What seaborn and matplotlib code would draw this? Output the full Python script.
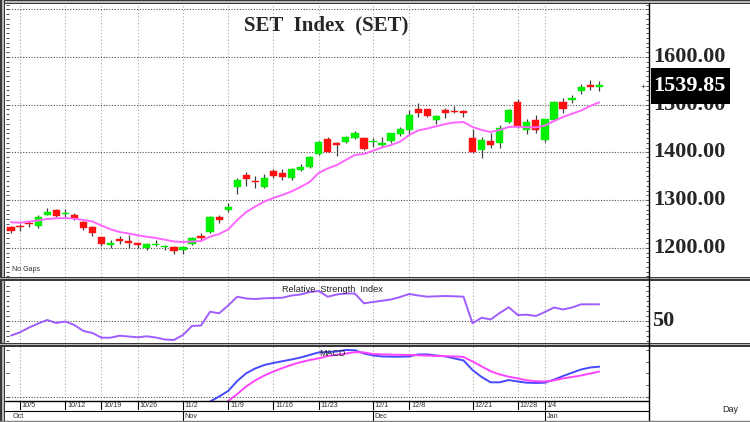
import numpy as np
import pandas as pd
import matplotlib
matplotlib.use("Agg")
import matplotlib.pyplot as plt
import seaborn as sns
from matplotlib.patches import Rectangle
from matplotlib.ticker import MultipleLocator

# ---------------- data ----------------
opens = [1244, 1245, 1251, 1246, 1269, 1280, 1270, 1269, 1255, 1243,
         1222, 1205, 1218, 1215, 1210, 1200, 1206, 1201, 1202, 1195,
         1209, 1225, 1233, 1265, 1279, 1328, 1353, 1340, 1328, 1362,
         1357, 1346, 1363, 1369, 1397, 1429, 1419, 1421, 1430, 1431,
         1421, 1416, 1424, 1438, 1447, 1492, 1491, 1468, 1489, 1487,
         1486, 1430, 1405, 1424, 1420, 1463, 1505, 1448, 1467, 1427,
         1468, 1506, 1510, 1529, 1541, 1538]
highs = [1246, 1249, 1256, 1268, 1283, 1281, 1281, 1273, 1257, 1245,
         1223, 1216, 1225, 1227, 1213, 1210, 1216, 1206, 1204, 1204,
         1222, 1230, 1267, 1268, 1294, 1346, 1358, 1350, 1355, 1366,
         1366, 1368, 1376, 1392, 1423, 1432, 1422, 1434, 1445, 1433,
         1430, 1433, 1441, 1453, 1489, 1503, 1492, 1479, 1494, 1497,
         1489, 1450, 1432, 1441, 1457, 1490, 1511, 1470, 1478, 1471,
         1507, 1515, 1520, 1544, 1552, 1550]
lows = [1230, 1236, 1244, 1242, 1268, 1264, 1262, 1258, 1238, 1225,
        1203, 1200, 1208, 1200, 1200, 1196, 1203, 1196, 1187, 1187,
        1205, 1215, 1230, 1251, 1276, 1313, 1330, 1325, 1326, 1347,
        1342, 1343, 1360, 1367, 1395, 1400, 1393, 1420, 1429, 1406,
        1411, 1412, 1420, 1435, 1437, 1474, 1475, 1460, 1472, 1482,
        1474, 1398, 1388, 1409, 1409, 1461, 1452, 1439, 1441, 1422,
        1465, 1483, 1503, 1522, 1531, 1529]
closes = [1236, 1243, 1249, 1264, 1276, 1266, 1274, 1262, 1242, 1232,
          1207, 1210, 1214, 1211, 1206, 1208, 1208, 1203, 1193, 1201,
          1221, 1221, 1265, 1258, 1286, 1342, 1344, 1337, 1346, 1351,
          1349, 1365, 1370, 1390, 1421, 1401, 1416, 1433, 1440, 1408,
          1423, 1419, 1440, 1450, 1478, 1483, 1476, 1477, 1483, 1484,
          1482, 1401, 1426, 1416, 1452, 1488, 1454, 1463, 1447, 1469,
          1506, 1491, 1513, 1538, 1538, 1539.85]
ma = [1253.5, 1252.6, 1255.1, 1257.2, 1260.4, 1261.8, 1262.5, 1261.0, 1258.3, 1255.1,
      1246.7, 1238.8, 1233.1, 1230.0, 1226.2, 1223.3, 1220.5, 1217.0, 1213.2, 1212.2,
      1213.2, 1214.3, 1223.3, 1228.9, 1238.4, 1258.3, 1275.1, 1286.6, 1297.1, 1304.5,
      1310.8, 1318.1, 1327.5, 1338.0, 1356.9, 1366.3, 1373.6, 1384.1, 1394.6, 1396.7,
      1403.6, 1410.3, 1415.5, 1422.5, 1436.5, 1445.9, 1450.1, 1454.7, 1459.5, 1462.7,
      1463.7, 1453.3, 1447.0, 1442.8, 1447.0, 1453.3, 1453.9, 1452.6, 1452.6, 1456.4,
      1465.8, 1474.2, 1481.1, 1487.8, 1497.3, 1505.0]
rsi = [35.2, 38.4, 43.2, 47.2, 50.7, 47.7, 49.2, 45.7, 39.7, 37.7,
       33.0, 33.0, 35.0, 34.2, 33.4, 34.4, 33.2, 31.2, 30.7, 35.7,
       44.7, 45.2, 59.0, 57.4, 65.2, 74.0, 72.2, 71.7, 72.4, 72.7,
       73.0, 75.2, 76.2, 78.7, 79.7, 74.0, 76.2, 77.2, 77.2, 67.4,
       68.7, 70.0, 71.2, 73.7, 76.7, 75.2, 74.0, 74.4, 74.7, 74.4,
       74.0, 47.4, 53.0, 51.2, 57.7, 63.4, 55.7, 56.0, 54.7, 58.7,
       63.2, 61.2, 63.2, 66.4, 66.4, 66.4]
nan = float("nan")
macd = [nan] * 21 + [
    -10.0, -3.6, 0.2, 4.3, 11.8, 17.6, 21.2, 23.8, 25.3, 26.6,
    27.9, 29.4, 31.3, 33.2, 33.5, 33.9, 35.0, 34.8, 32.4, 30.9,
    30.2, 30.0, 30.0, 30.2, 31.7, 31.7, 30.9, 30.2, 28.7, 27.2,
    20.0, 14.8, 10.8, 10.8, 12.5, 11.4, 10.5, 10.3, 10.5, 12.8,
    15.5, 18.0, 20.4, 21.9, 22.5]
signal = [nan] * 23 + [
    -10.0, -3.2, 2.0, 7.7, 12.3, 15.9, 18.9, 21.5, 23.9, 25.9,
    27.5, 28.7, 30.5, 31.4, 32.3, 33.4, 33.2, 32.0, 31.7, 31.5,
    31.4, 31.3, 31.1, 30.8, 30.5, 30.4, 30.2, 29.8, 26.4, 22.7,
    19.1, 16.7, 15.0, 13.7, 12.3, 11.6, 11.4, 12.3, 13.7, 14.8,
    15.9, 17.4, 18.8]
week_ticks = [1, 6, 10, 14, 19, 24, 29, 34, 40, 44, 51, 56, 59]
week_labels = ["10/5", "10/12", "10/19", "10/26", "11/2", "11/9", "11/16",
               "11/23", "12/1", "12/8", "12/21", "12/28", "1/4"]
month_starts = [0, 19, 40, 59]
month_labels = ["Oct", "Nov", "Dec", "Jan"]
price_levels = [1200, 1300, 1400, 1500, 1600, 1700]
price_labels = [1200, 1300, 1400, 1500, 1600]
last_close = 1539.85

# ---------------- layout ----------------
sns.set_style("white")
plt.rcParams["font.family"] = ["Liberation Sans", "DejaVu Sans"]
W, H = 750, 422
fig = plt.figure(figsize=(7.5, 4.22), dpi=100)
fig.patch.set_facecolor("white")


def ax_px(x0, y0, x1, y1):
    return fig.add_axes([x0 / W, 1 - y1 / H, (x1 - x0) / W, (y1 - y0) / H])


XL = (-0.552, 70.5)
ax = ax_px(6, 4, 649, 277)
ax_r = ax_px(6, 281, 649, 343)
ax_m = ax_px(6, 346, 649, 401)
ax_d = ax_px(6, 401, 649, 410)
ax_mo = ax_px(6, 410, 649, 421)

idx = np.arange(len(closes))
df = pd.DataFrame({"idx": idx, "open": opens, "high": highs, "low": lows,
                   "close": closes, "ma": ma, "rsi": rsi,
                   "macd": macd, "signal": signal})

grid_v = dict(color="#a8a8a8", lw=0.8, ls=(0, (1, 2)), zorder=0)
grid_h = dict(color="#505050", lw=0.8, ls=(0, (1, 1.5)), zorder=0)

for a in (ax, ax_r, ax_m):
    a.set_xlim(*XL)
    for s in a.spines.values():
        s.set_visible(False)
    a.set_xticks([])
    a.tick_params(axis="y", which="both", direction="in", left=True, right=True,
                  length=2.5, width=0.7, color="#505050",
                  labelleft=False, labelright=False, pad=0)
    for t in week_ticks:
        a.axvline(t, **grid_v)
    a.set_xlabel("")
    a.set_ylabel("")

# ---- main candlestick panel ----
ax.set_ylim(1138.8, 1711.1)
ax.yaxis.set_major_locator(MultipleLocator(10))
for p in price_levels:
    ax.axhline(p, **grid_h)
up = df["close"] >= df["open"]
colors = np.where(up, "#00f000", "#ff1010")
ax.vlines(df["idx"], df["low"], df["high"], color="#404040", lw=0.9, zorder=2)
bottoms = np.minimum(df["open"], df["close"])
heights = np.maximum(np.abs(df["close"] - df["open"]), 2.5)
ax.bar(df["idx"], heights, bottom=bottoms, width=0.8, color=colors,
       edgecolor=colors, lw=0.3, zorder=3)
sns.lineplot(data=df, x="idx", y="ma", ax=ax, color="#ff66ff", lw=1.4, zorder=4)
ax.set_xlabel("")
ax.set_ylabel("")
ax.plot([69.8], [last_close], marker="+", ms=3, color="#606060", mew=0.6, zorder=4)

tr = ax.get_yaxis_transform()
for p in price_labels:
    ax.text(1 + 4 / 643, p, f"{p:.2f}", transform=tr, ha="left", va="center",
            fontsize=16, fontweight="bold", family="Liberation Serif",
            clip_on=False, zorder=3)
ax.add_patch(Rectangle((1 + 2 / 643, last_close - 18 * 2.0964), 79 / 643, 36 * 2.0964,
                       transform=tr, facecolor="black", edgecolor="none",
                       clip_on=False, zorder=5))
ax.text(1 + 4 / 643, last_close, f"{last_close:.2f}", transform=tr, ha="left",
        va="center", fontsize=16, fontweight="bold", family="Liberation Serif",
        color="white", clip_on=False, zorder=6)
ax.text(0.009, 0.015, "No Gaps", transform=ax.transAxes, fontsize=5,
        color="#303030", ha="left", va="bottom")

fig.text(326 / W, 1 - 25 / H, "SET  Index  (SET)", ha="center", va="center",
         fontsize=15, fontweight="bold", family="Liberation Serif")

# ---- RSI panel ----
ax_r.set_ylim(27.7, 89.7)
ax_r.yaxis.set_major_locator(MultipleLocator(5))
ax_r.axhline(50, **grid_h)
sns.lineplot(data=df, x="idx", y="rsi", ax=ax_r, color="#a05cff", lw=1.4, zorder=3)
ax_r.set_xlabel("")
ax_r.set_ylabel("")
ax_r.text(0.507, 0.87, "Relative  Strength  Index", transform=ax_r.transAxes,
          ha="center", va="center", fontsize=6.6, color="#202020")
ax_r.text(1 + 3 / 643, 50, "50", transform=ax_r.get_yaxis_transform(), ha="left",
          va="center", fontsize=16, fontweight="bold", family="Liberation Serif",
          clip_on=False)

# ---- MACD panel ----
ax_m.set_ylim(-3.2, 38.0)
ax_m.yaxis.set_major_locator(MultipleLocator(8.75))
ax_m.axhline(0, **grid_h)
sns.lineplot(data=df, x="idx", y="macd", ax=ax_m, color="#4848ff", lw=1.4, zorder=3)
sns.lineplot(data=df, x="idx", y="signal", ax=ax_m, color="#ff44ff", lw=1.4, zorder=3)
ax_m.set_xlabel("")
ax_m.set_ylabel("")
ax_m.text(0.507, 0.87, "MACD", transform=ax_m.transAxes, ha="center",
          va="center", fontsize=6.4, color="#202020")

# ---- date rows ----
for a in (ax_d, ax_mo):
    a.set_xlim(*XL)
    a.set_ylim(0, 1)
    a.axis("off")
for t, lab in zip(week_ticks, week_labels):
    ax_d.vlines(t, 0, 1, color="black", lw=0.8)
    ax_d.text(t + 0.2, 0.45, lab, ha="left", va="center", fontsize=5.2, color="#303030")
for k, (t, lab) in enumerate(zip(month_starts, month_labels)):
    if k > 0:
        ax_mo.vlines(t, 0, 1, color="black", lw=0.8)
    ax_mo.text(t + 0.2, 0.45, lab, ha="left", va="center", fontsize=5.2, color="#303030")

fig.text(730 / W, 1 - 409 / H, "Day", ha="center", va="center", fontsize=6.5,
         color="#202020")

# ---- frame overlay ----
ov = fig.add_axes([0, 0, 1, 1], facecolor="none")
ov.set_xlim(0, W)
ov.set_ylim(H, 0)
ov.axis("off")


def band(x0, y0, x1, y1, c):
    ov.add_patch(Rectangle((x0, y0), x1 - x0, y1 - y0, facecolor=c, edgecolor="none"))


# top frame
band(0, 0, W, 1.2, "#383838")
band(0, 1.2, W, 2.6, "#b8b8b8")
band(0, 2.6, W, 3.8, "#383838")
# left frame
band(0, 0, 1.5, H, "#383838")
band(1.5, 0, 3.5, H, "#b8b8b8")
band(3.5, 0, 5, H, "#383838")
# separators
for y0 in (276.5, 342.5):
    band(0, y0, W, y0 + 1.2, "#383838")
    band(0, y0 + 1.2, W, y0 + 2.8, "#b8b8b8")
    band(0, y0 + 2.8, W, y0 + 4.0, "#383838")
# right boundary of plotting area
ov.plot([649, 649], [3, H], color="black", lw=1.0)
# date row lines
ov.plot([5, 649], [401, 401], color="black", lw=1.0)
ov.plot([5, 649], [410.5, 410.5], color="black", lw=0.8)
ov.plot([0, W], [421, 421], color="#808080", lw=1.0)

fig.savefig("out.png", dpi=100)
